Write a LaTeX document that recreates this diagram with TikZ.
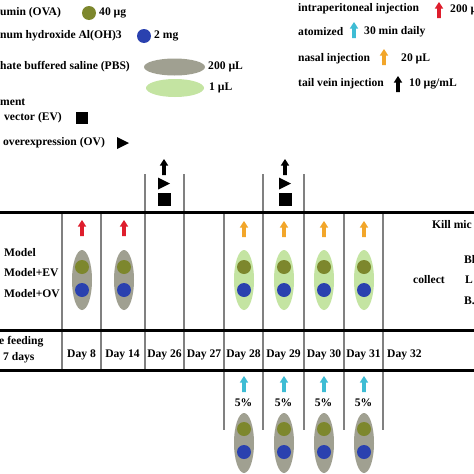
\documentclass[tikz,border=0pt]{standalone}
\usepackage{fontspec}
\setmainfont{Liberation Serif}
\usetikzlibrary{shapes.geometric}
\definecolor{ovagreen}{RGB}{125,135,45}
\definecolor{alblue}{RGB}{42,65,175}
\definecolor{pbsgray}{RGB}{160,160,145}
\definecolor{pbsgreen}{RGB}{196,228,162}
\definecolor{ipred}{RGB}{222,30,45}
\definecolor{atcyan}{RGB}{62,188,212}
\definecolor{naorange}{RGB}{242,166,42}
\definecolor{vgray}{RGB}{128,128,128}
\tikzset{
  thickline/.style={line width=3pt},
  vline/.style={line width=1.3pt, draw=vgray},
  lbl/.style={inner sep=0pt, anchor=west},
  ctr/.style={inner sep=0pt},
  dotA/.style={circle, fill=ovagreen, minimum size=14pt, inner sep=0pt},
  dotB/.style={circle, fill=alblue, minimum size=14pt, inner sep=0pt},
  ellG/.style={ellipse, fill=pbsgray, minimum width=20pt, minimum height=60pt, inner sep=0pt},
  ellL/.style={ellipse, fill=pbsgreen, minimum width=20pt, minimum height=60pt, inner sep=0pt},
  sq/.style={rectangle, fill=black, minimum size=12pt, inner sep=0pt},
  pics/uparr/.style={code={
    \fill[#1] (-1.8,8) -- (-1.8,-1.5) -- (-4.2,-1.5) -- (0,-8) -- (4.2,-1.5) -- (1.8,-1.5) -- (1.8,8) -- cycle;}},
  pics/tri/.style={code={\fill[black] (-6,-6) -- (6,0) -- (-6,6) -- cycle;}}
}
\begin{document}
\begin{tikzpicture}[x=1pt,y=-1pt,font=\fontsize{11.6}{13}\selectfont\bfseries]
\useasboundingbox (0,0) rectangle (474,474);
\fill[white] (0,0) rectangle (474,474);

% ---------- legend, left ----------
\node[lbl] (lova) at (0,13) {umin (OVA)};
\node[dotA] (lovad) at (89,13) {};
\node[lbl] (lovat) at (99,13) {40 µg};
\node[lbl] (lal) at (0,36) {num hydroxide Al(OH)3};
\node[dotB] (lald) at (144,36) {};
\node[lbl] (lalt) at (154,36) {2 mg};
\node[lbl] (lpbs) at (0,67) {hate buffered saline (PBS)};
\node[ellipse, fill=pbsgray, minimum width=61pt, minimum height=17pt, inner sep=0pt] (lpbsg) at (174.5,67) {};
\node[lbl] (lpbsgt) at (208,67) {200 µL};
\node[ellipse, fill=pbsgreen, minimum width=58pt, minimum height=18pt, inner sep=0pt] (lpbsl) at (175,88) {};
\node[lbl] (lpbslt) at (209,88) {1 µL};
\node[lbl] (ltr) at (0,102) {ment};
\node[lbl] (lev) at (4,118) {vector (EV)};
\node[sq] (levs) at (82,118) {};
\node[lbl] (lov) at (3,143) {overexpression (OV)};
\pic at (123,143) {tri};

% ---------- legend, right ----------
\node[lbl] (rip) at (298,9) {intraperitoneal injection};
\pic at (439,10) {uparr=ipred};
\node[lbl] (ript) at (450,10) {200 µ};
\node[lbl] (rat) at (298,32) {atomized};
\pic at (354,30) {uparr=atcyan};
\node[lbl] (ratt) at (364,32) {30 min daily};
\node[lbl] (rna) at (298,59) {nasal injection};
\pic at (384,57) {uparr=naorange};
\node[lbl] (rnat) at (401,59) {20 µL};
\node[lbl] (rtv) at (298,84) {tail vein injection};
\pic at (398,84) {uparr=black};
\node[lbl] (rtvt) at (409,84) {10 µg/mL};

% ---------- grid ----------
\foreach \x/\a/\b in {62/212/370, 101/212/370, 145/174/370, 184/174/370,
  224/212/430, 263/174/430, 304/174/430, 344/212/430, 383/212/430}
  \draw[vline] (\x,\a) -- (\x,\b);
\draw[thickline] (0,212) -- (474,212);
\draw[thickline] (0,330) -- (474,330);
\draw[thickline] (0,370) -- (474,370);

% ---------- tail vein marks ----------
\foreach \x/\n in {164/a, 285/b} {
  \pic at (\x,167) {uparr=black};
  \pic at (\x,183.5) {tri};
  \node[sq, minimum size=13pt] (sq\n) at (\x+0.5,199.5) {};
}

% ---------- groups ----------
\node[lbl] (gm) at (4,253) {Model};
\node[lbl] (gev) at (4,273) {Model+EV};
\node[lbl] (gov) at (4,294) {Model+OV};

\foreach \x/\n in {82/a, 124/b} {
  \pic at (\x,228) {uparr=ipred};
  \node[ellG] (e\n) at (\x,280) {};
  \node[dotA] (o\n) at (\x,267) {};
  \node[dotB] (b\n) at (\x,290) {};
}
\foreach \x/\n in {244/c, 284/d, 324/e, 364/f} {
  \pic at (\x,229) {uparr=naorange};
  \node[ellL] (e\n) at (\x,280) {};
  \node[dotA] (o\n) at (\x,267) {};
  \node[dotB] (b\n) at (\x,290) {};
  \pic at (\x,384) {uparr=atcyan};
  \node[ctr] (p\n) at (\x-0.5,403) {5\%};
  \node[ellG] (f\n) at (\x,443) {};
  \node[dotA] (q\n) at (\x,429) {};
  \node[dotB] (r\n) at (\x,452) {};
}

% ---------- right texts ----------
\node[lbl] (kill) at (432,225) {Kill mic};
\node[lbl] (coll) at (413,280) {collect};
\node[lbl] (c1) at (464,259) {Bl};
\node[lbl] (c2) at (465,280) {L};
\node[lbl] (c3) at (464,301) {B.};

% ---------- day row ----------
\node[lbl] (feed) at (-1,342) {e feeding};
\node[lbl] (seven) at (3,358) {7 days};
\foreach \x/\d in {81.5/8, 122.5/14, 164.5/26, 204/27, 243.5/28, 283.5/29, 324/30, 363.5/31}
  \node[ctr] (d\d) at (\x,355) {Day \d};
\node[lbl] (d32) at (387,355) {Day 32};
\end{tikzpicture}
\end{document}
